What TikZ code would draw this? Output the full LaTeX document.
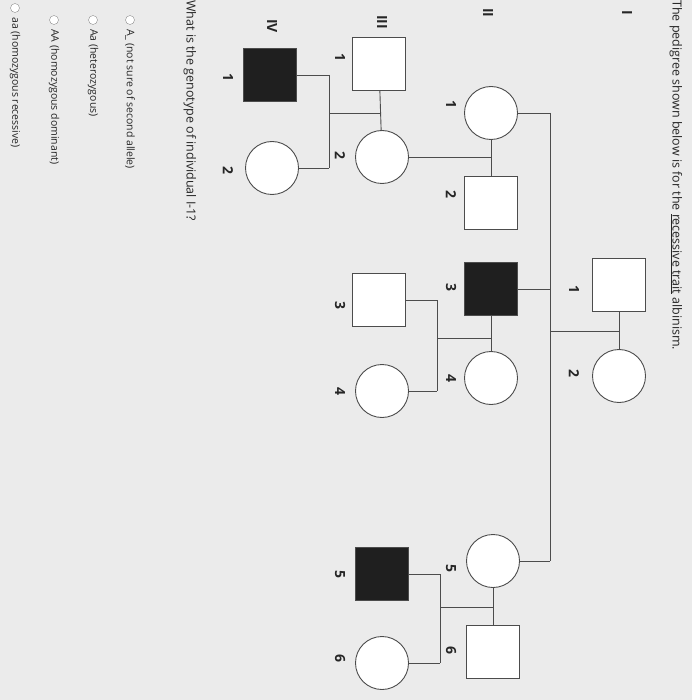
\documentclass[tikz,border=0pt]{standalone}
\usepackage{fontspec}
\setmainfont{Open Sans}
\begin{document}
\begin{tikzpicture}[x=1pt,y=-1pt,
  ln/.style={draw=black!70,line width=0.9pt},
  male/.style={ln,fill=white,minimum size=53pt,inner sep=0pt,rectangle},
  fem/.style={ln,fill=white,minimum size=53pt,inner sep=0pt,circle},
  aff/.style={fill=black!88},
  lbl/.style={rotate=-90,font=\fontsize{14}{14}\selectfont\bfseries,text=black!85},
  txt/.style={rotate=-90,anchor=west,inner sep=0pt,text=black!85},
  radio/.style={circle,draw=black!45,fill=white,minimum size=9pt,inner sep=0pt}]
\fill[black!8] (0,0) rectangle (692,700);
\useasboundingbox (0,0) rectangle (692,700);
% title and questions
\node[txt,font=\fontsize{12.5}{13}\selectfont] (title) at (676,0) {The pedigree shown below is for the \underline{recessive trait} albinism.};
\node[txt,font=\fontsize{12.5}{13}\selectfont] (q) at (190,0) {What is the genotype of individual I-1?};
\node[radio] (r1) at (130,20) {};
\node[radio] (r2) at (93,20) {};
\node[radio] (r3) at (54,20) {};
\node[radio] (r4) at (15,8) {};
\node[txt,font=\fontsize{10.5}{11}\selectfont] (o1) at (130,29) {A\_ (not sure of second allele)};
\node[txt,font=\fontsize{10.5}{11}\selectfont] (o2) at (93,29) {Aa (heterozygous)};
\node[txt,font=\fontsize{10.5}{11}\selectfont] (o3) at (54,29) {AA (homozygous dominant)};
\node[txt,font=\fontsize{10.5}{11}\selectfont] (o4) at (15,17) {aa (homozygous recessive)};
% generation labels
\node[lbl] (gI) at (627,13) {I};
\node[lbl] (gII) at (488,13) {II};
\node[lbl] (gIII) at (382,22) {III};
\node[lbl] (gIV) at (272,26) {IV};
% Gen I
\node[male] (i1) at (619,285) {};
\node[fem] (i2) at (619,376) {};
\node[lbl] at (574,289) {1};
\node[lbl] at (574,373) {2};
% Gen II
\node[fem] (ii1) at (491,113) {};
\node[male] (ii2) at (491,203) {};
\node[male,aff] (ii3) at (491,289) {};
\node[fem] (ii4) at (491,378) {};
\node[fem] (ii5) at (493,561) {};
\node[male] (ii6) at (493,652) {};
\foreach \n/\p in {1/104,2/194,3/287,4/378,5/568,6/650}{\node[lbl] at (451,\p) {\n};}
% Gen III
\node[male] (iii1) at (379,64) {};
\node[fem] (iii2) at (382,157) {};
\node[male] (iii3) at (379,300) {};
\node[fem] (iii4) at (382,391) {};
\node[male,aff] (iii5) at (382,574) {};
\node[fem] (iii6) at (382,663) {};
\foreach \n/\p in {1/57,2/155,3/305,4/391,5/574,6/658}{\node[lbl] at (340,\p) {\n};}
% Gen IV
\node[male,aff] (iv1) at (270,75) {};
\node[fem] (iv2) at (272,168) {};
\node[lbl] at (228,77) {1};
\node[lbl] at (228,170) {2};
% connectors
\coordinate (s1) at (550,113);
\coordinate (s2) at (550,561);
\draw[ln] (i1) -- (i2);
\draw[ln] (619,331) -- (550,331);
\draw[ln] (s1) -- (s2);
\draw[ln] (ii1) -- (s1);
\draw[ln] (ii3.east) -- (550,289);
\draw[ln] (ii5) -- (s2);
\draw[ln] (ii1) -- (ii2);
\draw[ln] (ii3) -- (ii4);
\draw[ln] (ii5) -- (ii6);
\draw[ln] (491,157) -- (iii2);
\draw[ln] (491,338) -- (437,338) (437,300) -- (437,391);
\draw[ln] (iii3) -- (437,300) (iii4) -- (437,391);
\draw[ln] (493,607) -- (440,607) (440,574) -- (440,663);
\draw[ln] (iii5) -- (440,574) (iii6) -- (440,663);
\draw[ln] (iii1) -- (iii2);
\draw[ln] (380,113) -- (329,113) (329,75) -- (329,168);
\draw[ln] (iv1) -- (329,75) (iv2) -- (329,168);
\end{tikzpicture}
\end{document}
